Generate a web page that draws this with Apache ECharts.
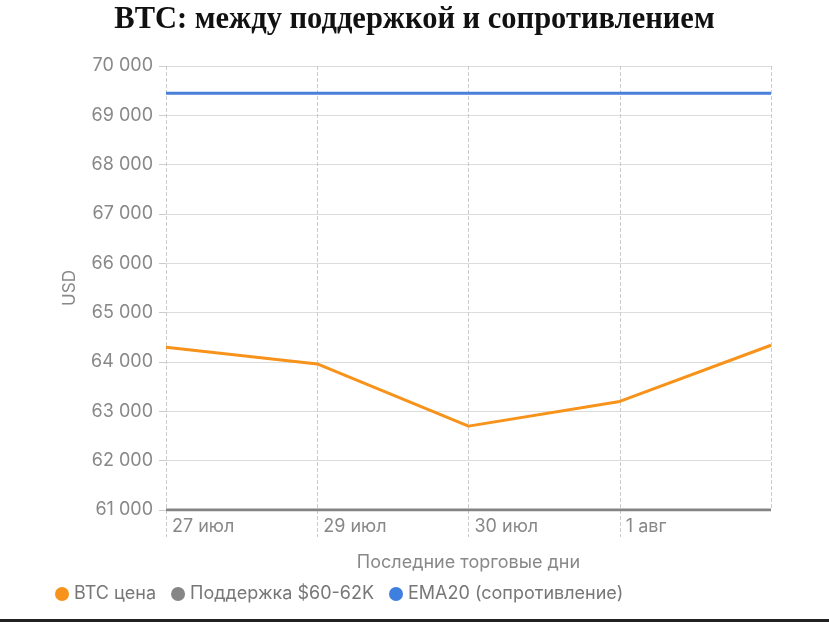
<!DOCTYPE html>
<html><head><meta charset="utf-8">
<script src="https://cdn.jsdelivr.net/npm/echarts@6/dist/echarts.min.js"></script>
<style>
html,body{margin:0;padding:0;background:#fff;}
#c{width:829px;height:619px;}
#bar{width:829px;height:3px;background:#222;}
</style></head>
<body><div id="c"></div><div id="bar"></div>
<script>
const categories = ["27 июл", "29 июл", "30 июл", "1 авг", "2 авг"];
const btcPrice = [64300, 63960, 62700, 63200, 64340];
const support = [61000, 61000, 61000, 61000, 61000];
const ema20 = [69450, 69450, 69450, 69450, 69450];
const yMin = 61000, yMax = 70000, yStep = 1000;

const chart = echarts.init(document.getElementById('c'), null, {renderer:'canvas'});
const fmt = v => String(v).replace(/\B(?=(\d{3})+(?!\d))/g, ' ');
const F = 'Inter';
chart.setOption({
  animation:false,
  title:{text:'BTC: между поддержкой и сопротивлением', left:'center', top:0,
    textStyle:{fontFamily:'Liberation Serif', fontWeight:'bold', fontSize:30.5, color:'#111'}},
  legend:{left:50, top:580, icon:'circle', itemWidth:14, itemHeight:14, itemGap:15,
    textStyle:{fontFamily:F, fontSize:18, color:'#777'},
    data:['BTC цена','Поддержка $60-62K','EMA20 (сопротивление)']},
  grid:{left:166, right:58, top:66, bottom:109},
  xAxis:{type:'category', data:categories, boundaryGap:false,
    name:'Последние торговые дни', nameLocation:'middle', nameGap:44,
    nameTextStyle:{fontFamily:F, fontSize:18, color:'#888'},
    axisLine:{show:false},
    axisTick:{show:true, length:27, lineStyle:{color:'#ccc', type:'dashed'}},
    axisLabel:{align:'left', margin:8, padding:[0,0,0,6], showMaxLabel:false, fontFamily:F, fontSize:18, color:'#888'},
    splitLine:{show:true, lineStyle:{color:'#ccc', type:'dashed'}}},
  yAxis:{type:'value', min:yMin, max:yMax, interval:yStep,
    name:'USD', nameLocation:'middle', nameGap:88,
    nameTextStyle:{fontFamily:F, fontSize:17, color:'#888'},
    axisLine:{show:false},
    axisTick:{show:true, length:7, lineStyle:{color:'#ccc'}},
    axisLabel:{margin:13, formatter:fmt, fontFamily:F, fontSize:18, color:'#888'},
    splitLine:{lineStyle:{color:'#dcdcdc'}}},
  series:[
    {name:'EMA20 (сопротивление)', type:'line', data:ema20, showSymbol:false, z:2,
      itemStyle:{color:'#3f7fe0'}, lineStyle:{width:3, color:'#4a80d9'}},
    {name:'Поддержка $60-62K', type:'line', data:support, showSymbol:false, z:3,
      itemStyle:{color:'#868686'}, lineStyle:{width:3, color:'#848484'}},
    {name:'BTC цена', type:'line', data:btcPrice, showSymbol:false, z:4,
      itemStyle:{color:'#f7931a'}, lineStyle:{width:3, color:'#f7931a'}}
  ]
});
</script></body></html>
